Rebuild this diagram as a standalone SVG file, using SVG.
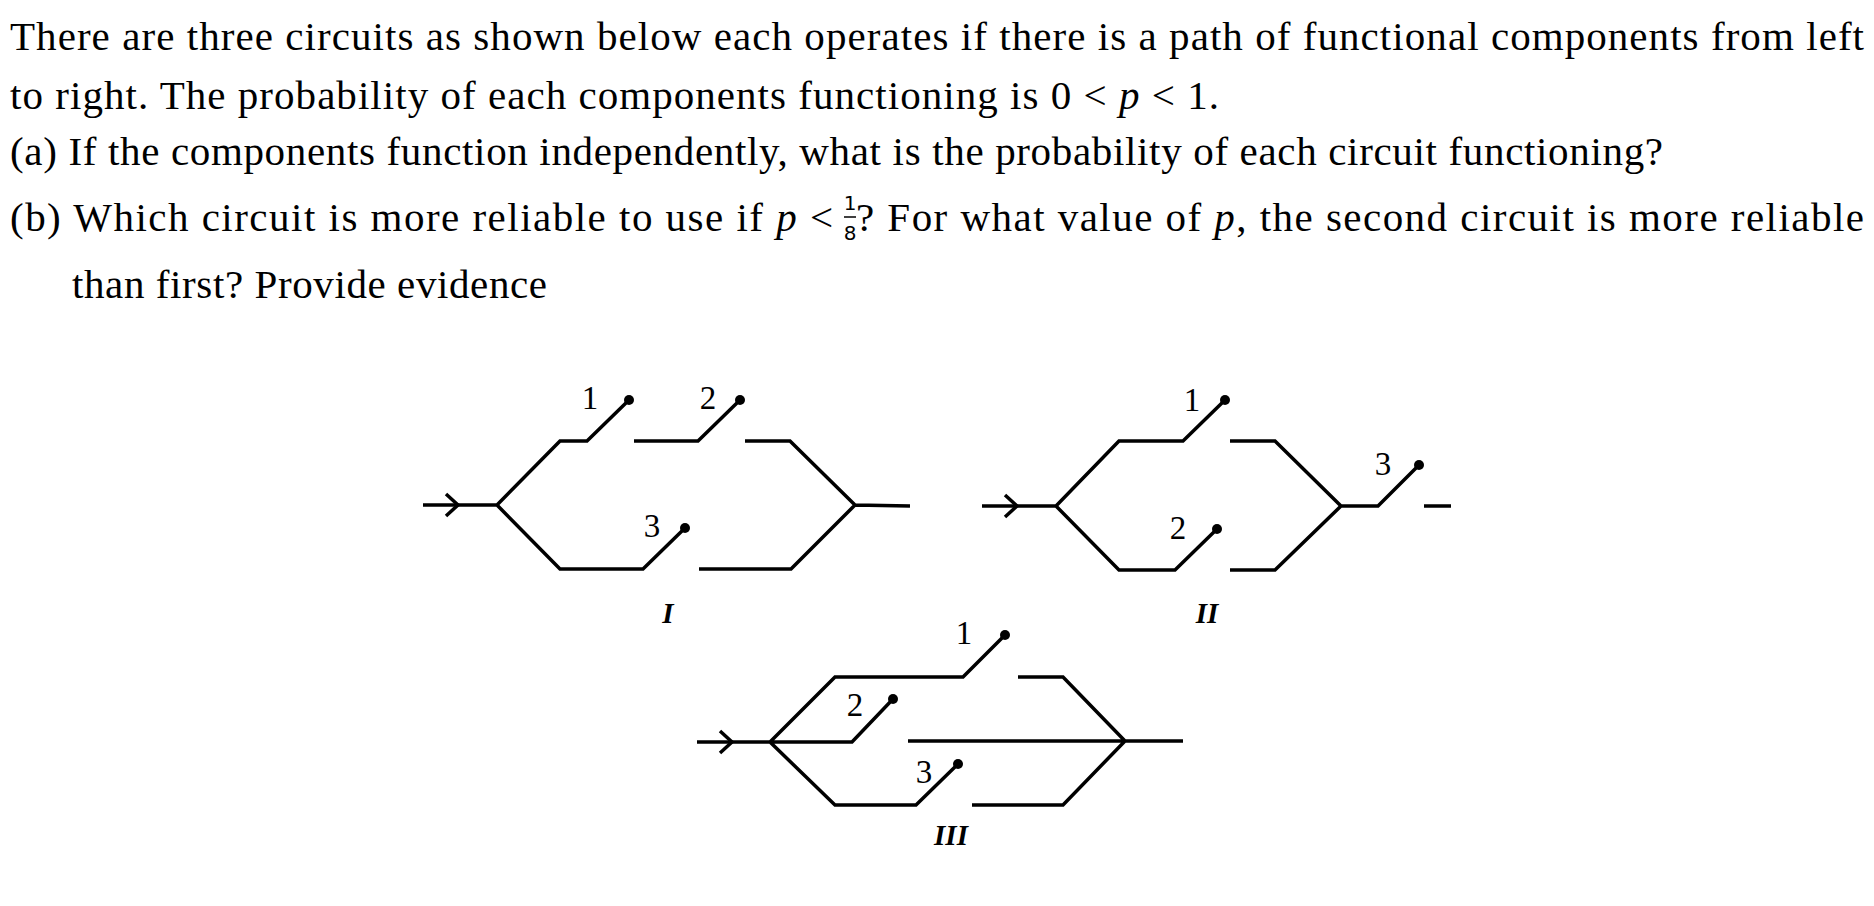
<svg xmlns="http://www.w3.org/2000/svg" width="1874" height="906" viewBox="0 0 1874 906">
<style>
.t{font-family:"Liberation Serif","Times New Roman",serif;font-size:41px;fill:#000}
.n{font-family:"Liberation Serif","Times New Roman",serif;font-size:33px;fill:#000;text-anchor:middle}
.r{font-family:"Liberation Serif","Times New Roman",serif;font-size:29px;font-style:italic;font-weight:bold;fill:#000;text-anchor:middle}
.w{fill:none;stroke:#000;stroke-width:3.5;stroke-linejoin:miter}
.fr{font-family:"DejaVu Sans",sans-serif;font-size:20px;fill:#000;text-anchor:middle}
</style>
<rect width="1874" height="906" fill="#fff"/>
<g id="text">
<text class="t" x="10" y="50" textLength="1854" lengthAdjust="spacing">There are three circuits as shown below each operates if there is a path of functional components from left</text>
<text class="t" x="10" y="109" textLength="1209" lengthAdjust="spacing">to right. The probability of each components functioning is 0 &lt; <tspan font-style="italic">p</tspan> &lt; 1.</text>
<text class="t" x="10" y="165" textLength="1653" lengthAdjust="spacing">(a) If the components function independently, what is the probability of each circuit functioning?</text>
<text class="t" x="10" y="231" textLength="823" lengthAdjust="spacing">(b) Which circuit is more reliable to use if <tspan font-style="italic">p</tspan> &lt;</text>
<text class="fr" x="850" y="210">1</text>
<line x1="844" y1="217" x2="856" y2="217" stroke="#000" stroke-width="1.5"/>
<text class="fr" x="850" y="240">8</text>
<text class="t" x="856" y="231" textLength="1008" lengthAdjust="spacing">? For what value of <tspan font-style="italic">p</tspan>, the second circuit is more reliable</text>
<text class="t" x="72" y="298" textLength="475" lengthAdjust="spacing">than first? Provide evidence</text>
</g>
<g id="circuit1">
<path class="w" d="M423 505H497L560 441H587L629 400M634 441H698L740 400M745 441H790L855 505L910 506M497 505L560 569H643L685 528M699 569H791L855 505"/>
<path class="w" d="M446 494L458 505L446 516"/>
<circle cx="629" cy="400" r="5"/><circle cx="740" cy="400" r="5"/><circle cx="685" cy="528" r="5"/>
<text class="n" x="590" y="409">1</text><text class="n" x="708" y="409">2</text><text class="n" x="652" y="537">3</text>
<text class="r" x="668" y="623">I</text>
</g>
<g id="circuit2">
<path class="w" d="M982 506H1056L1119 441H1183L1225 400M1230 441H1275L1341 506H1378L1419 465M1424 506H1451M1056 506L1119 570H1175L1217 529M1230 570H1275L1341 506"/>
<path class="w" d="M1005 495L1017 506L1005 517"/>
<circle cx="1225" cy="400" r="5"/><circle cx="1217" cy="529" r="5"/><circle cx="1419" cy="465" r="5"/>
<text class="n" x="1192" y="411">1</text><text class="n" x="1178" y="539">2</text><text class="n" x="1383" y="475">3</text>
<text class="r" x="1207" y="623">II</text>
</g>
<g id="circuit3">
<path class="w" d="M697 742H770L835 677H963L1005 635M1018 677H1063L1125 741H1183M770 742H852L893 699M908 741H1125M770 742L835 805H916L958 764M972 805H1063L1125 741"/>
<path class="w" d="M720 731L732 742L720 753"/>
<circle cx="1005" cy="635" r="5"/><circle cx="893" cy="699" r="5"/><circle cx="958" cy="764" r="5"/>
<text class="n" x="964" y="644">1</text><text class="n" x="855" y="716">2</text><text class="n" x="924" y="783">3</text>
<text class="r" x="951" y="845">III</text>
</g>
</svg>
